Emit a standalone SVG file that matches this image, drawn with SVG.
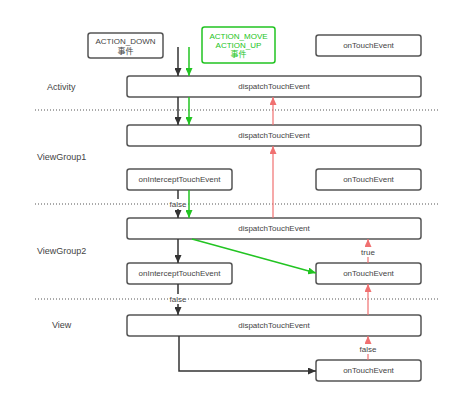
<svg xmlns="http://www.w3.org/2000/svg" width="474" height="417" viewBox="0 0 474 417">
<defs>
<style>
.box{fill:#fff;stroke:#555;stroke-width:1.5}
.gbox{fill:#fff;stroke:#22c422;stroke-width:1.5}
.t{font-family:"Liberation Sans",Arial,"Noto Sans CJK SC",sans-serif;font-size:8px;fill:#444;text-anchor:middle;dominant-baseline:central}
.gt{fill:#22c422}
.lbl{font-family:"Liberation Sans",Arial,sans-serif;font-size:9px;fill:#444;dominant-baseline:central}
.dot{stroke:#555;stroke-width:1;stroke-dasharray:1 2;fill:none}
.bk{stroke:#333;stroke-width:1.5;fill:none;marker-end:url(#mb)}
.gr{stroke:#22c422;stroke-width:1.5;fill:none;marker-end:url(#mg)}
.rd{stroke:#f07070;stroke-width:1.2;fill:none;marker-end:url(#mr)}
.bg{fill:#fff}
</style>
<marker id="mb" markerUnits="userSpaceOnUse" markerWidth="8" markerHeight="7" refX="8" refY="3.5" orient="auto"><path d="M0,0 L8,3.5 L0,7 z" fill="#333"/></marker>
<marker id="mg" markerUnits="userSpaceOnUse" markerWidth="8" markerHeight="7" refX="8" refY="3.5" orient="auto"><path d="M0,0 L8,3.5 L0,7 z" fill="#22c422"/></marker>
<marker id="mr" markerUnits="userSpaceOnUse" markerWidth="8" markerHeight="7" refX="8" refY="3.5" orient="auto"><path d="M0,0 L8,3.5 L0,7 z" fill="#f07070"/></marker>
</defs>
<rect width="474" height="417" fill="#fff"/>
<g id="layers">
<text class="lbl" x="47" y="87">Activity</text>
<text class="lbl" x="37" y="157">ViewGroup1</text>
<text class="lbl" x="37" y="251">ViewGroup2</text>
<text class="lbl" x="52" y="325">View</text>
<line class="dot" x1="35" y1="110" x2="438" y2="110"/>
<line class="dot" x1="35" y1="204" x2="438" y2="204"/>
<line class="dot" x1="35" y1="299" x2="438" y2="299"/>
</g>
<g id="action-down"><rect class="box" x="88" y="33" width="75" height="25" rx="2.5"/><text class="t" x="125.5" y="41.5">ACTION_DOWN</text><text class="t" x="125.5" y="51">事件</text></g>
<g id="action-move"><rect class="gbox" x="202" y="27" width="73" height="36" rx="2.5"/><text class="t gt" x="238.5" y="36">ACTION_MOVE</text><text class="t gt" x="238.5" y="45.5">ACTION_UP</text><text class="t gt" x="238.5" y="54.5">事件</text></g>
<g id="activity-ontouch"><rect class="box" x="316" y="35" width="105" height="21" rx="2.5"/><text class="t" x="368.5" y="45.5">onTouchEvent</text></g>
<g id="activity-dispatch"><rect class="box" x="127" y="76" width="294" height="21" rx="2.5"/><text class="t" x="274" y="86.5">dispatchTouchEvent</text></g>
<g id="vg1-dispatch"><rect class="box" x="127" y="125" width="294" height="21" rx="2.5"/><text class="t" x="274" y="135.5">dispatchTouchEvent</text></g>
<g id="vg1-intercept"><rect class="box" x="127" y="169" width="105" height="21" rx="2.5"/><text class="t" x="179.5" y="179.5">onInterceptTouchEvent</text></g>
<g id="vg1-ontouch"><rect class="box" x="316" y="169" width="105" height="21" rx="2.5"/><text class="t" x="368.5" y="179.5">onTouchEvent</text></g>
<g id="vg2-dispatch"><rect class="box" x="127" y="218" width="294" height="21" rx="2.5"/><text class="t" x="274" y="228.5">dispatchTouchEvent</text></g>
<g id="vg2-intercept"><rect class="box" x="127" y="263" width="105" height="21" rx="2.5"/><text class="t" x="179.5" y="273.5">onInterceptTouchEvent</text></g>
<g id="vg2-ontouch"><rect class="box" x="316" y="263" width="105" height="21" rx="2.5"/><text class="t" x="368.5" y="273.5">onTouchEvent</text></g>
<g id="view-dispatch"><rect class="box" x="127" y="315" width="294" height="21" rx="2.5"/><text class="t" x="274" y="325.5">dispatchTouchEvent</text></g>
<g id="view-ontouch"><rect class="box" x="316" y="360" width="105" height="21" rx="2.5"/><text class="t" x="368.5" y="370.5">onTouchEvent</text></g>
<g id="connectors">
<line class="bk" x1="178" y1="47" x2="178" y2="76"/>
<line class="bk" x1="178" y1="97" x2="178" y2="125"/>
<line class="bk" x1="178" y1="190" x2="178" y2="218"/>
<line class="bk" x1="178" y1="239" x2="178" y2="263"/>
<line class="bk" x1="178" y1="284" x2="178" y2="315"/>
<path class="bk" d="M179,336 V371 H316"/>
<line class="gr" x1="189" y1="47" x2="189" y2="76"/>
<line class="gr" x1="189" y1="97" x2="189" y2="125"/>
<line class="gr" x1="189" y1="190" x2="189" y2="218"/>
<line class="gr" x1="192" y1="239" x2="316" y2="273"/>
<line class="rd" x1="273" y1="125" x2="273" y2="97"/>
<line class="rd" x1="273" y1="218" x2="273" y2="146"/>
<line class="rd" x1="368" y1="263" x2="368" y2="239"/>
<line class="rd" x1="368" y1="315" x2="368" y2="284"/>
<line class="rd" x1="368" y1="360" x2="368" y2="336"/>
<rect class="bg" x="170" y="199" width="16" height="10"/>
<text class="t" x="178" y="204">false</text>
<rect class="bg" x="170" y="294" width="16" height="10"/>
<text class="t" x="178" y="299">false</text>
<rect class="bg" x="361" y="247" width="14" height="10"/>
<text class="t" x="368" y="252">true</text>
<rect class="bg" x="360" y="344" width="16" height="10"/>
<text class="t" x="368" y="349">false</text>
</g>
</svg>
